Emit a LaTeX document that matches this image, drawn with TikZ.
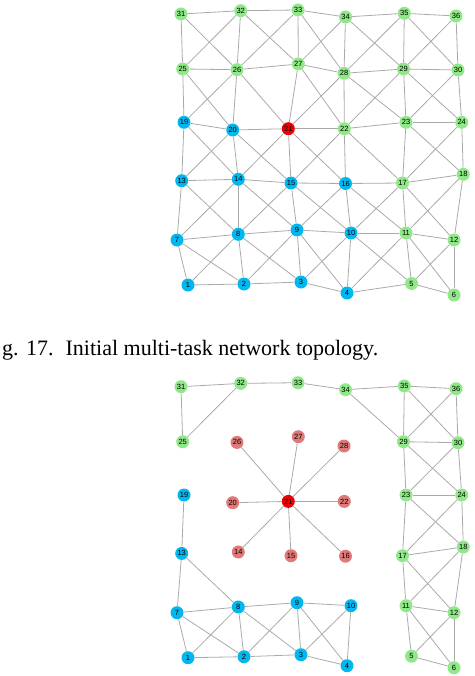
\documentclass[tikz,border=0pt]{standalone}
\usepackage{fontspec}
\usepackage{xcolor}
\setmainfont{Liberation Serif}
\newfontfamily\knotenschrift{Liberation Sans}

\definecolor{knotengruen}{RGB}{144,232,136}
\definecolor{knotenblau}{RGB}{0,183,240}
\definecolor{knotenrot}{RGB}{235,0,0}
\definecolor{knotenrosa}{RGB}{224,122,122}
\definecolor{kantengrau}{RGB}{170,170,170}

\begin{document}
\begin{tikzpicture}[x=1pt,y=-1pt,
        knoten/.style={circle,inner sep=0pt,minimum size=13pt,
            font=\knotenschrift\fontsize{7.5}{7.5}\selectfont},
        verbindung/.style={draw=kantengrau,line width=0.8pt}]
    \useasboundingbox (0,0) rectangle (474,676);

    % Abstand zwischen oberem und unterem Netz
    \def\versatz{372.7pt}

    % Knotenpositionen (oberes Netz)
    \def\positionen{
        1/188/285, 2/244/284, 3/301/282, 4/347/293, 5/411.5/283.5, 6/454/295,
        7/177/240, 8/238.3/234.3, 9/297/230, 10/351/233, 11/406/233, 12/454/240,
        13/181.7/180.7, 14/238.3/179.3, 15/291/183, 16/345.5/183.5, 17/402.5/183, 18/463.3/174.3,
        19/184/122.3, 20/232.7/130, 21/288.3/128.7, 22/344.3/128.7, 23/406/122.3, 24/461.7/122.3,
        25/182.7/69, 26/237/69.7, 27/298.3/64, 28/344/73.3, 29/403.5/69, 30/458/70,
        31/181/14, 32/240.7/10.7, 33/298/10, 34/345.5/17, 35/404.3/13.3, 36/456/16}
    \foreach \n/\x/\y in \positionen {
        \coordinate (p\n) at (\x,\y);
    }

    % Diagonalen im oberen Netz
    \def\diagonalen{
        31/26, 32/25, 32/27, 33/26, 33/28, 34/27, 34/29, 35/28, 35/30, 36/29,
        25/20, 26/19, 26/21, 27/22, 28/21, 28/23, 29/22, 29/24, 30/23,
        19/14, 20/13, 20/15, 21/14, 21/16, 22/15, 22/17, 23/18, 24/17,
        13/8, 14/7, 14/9, 15/8, 15/10, 16/9, 16/11, 17/10, 17/12, 18/11,
        7/2, 8/1, 8/3, 9/2, 9/4, 10/3, 10/5, 11/4, 11/6, 12/5}

    % Kanten im unteren Netz
    \def\kantenunten{
        31/32, 32/33, 33/34, 34/35, 35/36, 31/25, 32/25, 34/29, 35/29, 35/30,
        36/29, 36/30, 29/30, 29/23, 29/24, 30/23, 30/24, 23/24, 23/17, 23/18,
        24/17, 24/18, 17/18, 17/11, 17/12, 18/11, 18/12, 11/12, 11/5, 11/6,
        12/5, 12/6, 5/6,
        21/26, 21/27, 21/28, 21/20, 21/22, 21/14, 21/15, 21/16,
        19/13, 13/7, 13/8, 7/8, 8/9, 9/10, 7/1, 7/2, 8/1, 8/2, 8/3, 9/2,
        9/3, 9/4, 10/3, 10/4, 1/2, 2/3, 3/4}

    % Oberes Netz: Knoten
    \foreach \n in {1,2,3,4,7,8,9,10,13,14,15,16,19,20} {
        \node[knoten,fill=knotenblau] (o\n) at (p\n) {\n};
    }
    \node[knoten,fill=knotenrot] (o21) at (p21) {21};
    \foreach \n in {5,6,11,12,17,18,22,23,24,25,26,27,28,29,30,31,32,33,34,35,36} {
        \node[knoten,fill=knotengruen] (o\n) at (p\n) {\n};
    }

    % Oberes Netz: Zeilen und Spalten
    \foreach \r in {0,...,5} {
        \foreach \c in {1,...,5} {
            \pgfmathtruncatemacro{\a}{6*\r+\c}
            \pgfmathtruncatemacro{\b}{\a+1}
            \draw[verbindung] (o\a) -- (o\b);
        }
    }
    \foreach \r in {0,...,4} {
        \foreach \c in {1,...,6} {
            \pgfmathtruncatemacro{\a}{6*\r+\c}
            \pgfmathtruncatemacro{\b}{\a+6}
            \draw[verbindung] (o\a) -- (o\b);
        }
    }
    \foreach \a/\b in \diagonalen {
        \draw[verbindung] (o\a) -- (o\b);
    }

    % Bildunterschrift
    \node[anchor=base west,inner sep=0pt,font=\fontsize{22}{22}\selectfont] (unterschrift)
        at (2,355) {g. 17.\hspace{0.55em}Initial multi-task network topology.};

    % Unteres Netz: Knoten
    \foreach \n in {1,2,3,4,7,8,9,10,13,19} {
        \node[knoten,fill=knotenblau] (u\n) at ([yshift=-\versatz]p\n) {\n};
    }
    \node[knoten,fill=knotenrot] (u21) at ([yshift=-\versatz]p21) {21};
    \foreach \n in {14,15,16,20,22,26,27,28} {
        \node[knoten,fill=knotenrosa] (u\n) at ([yshift=-\versatz]p\n) {\n};
    }
    \foreach \n in {5,6,11,12,17,18,23,24,25,29,30,31,32,33,34,35,36} {
        \node[knoten,fill=knotengruen] (u\n) at ([yshift=-\versatz]p\n) {\n};
    }

    % Unteres Netz: Kanten
    \foreach \a/\b in \kantenunten {
        \draw[verbindung] (u\a) -- (u\b);
    }
\end{tikzpicture}
\end{document}
